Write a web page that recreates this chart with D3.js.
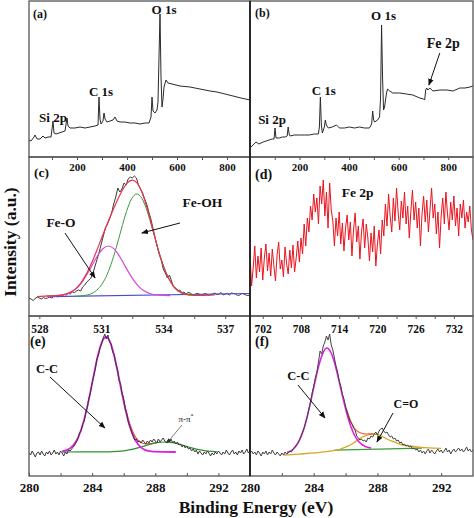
<!DOCTYPE html>
<html>
<head>
<meta charset="utf-8">
<script src="https://cdnjs.cloudflare.com/ajax/libs/d3/7.8.5/d3.min.js"></script>
<style>
  body { margin: 0; background: #fff; }
  svg text { font-family: "Liberation Serif", "Times New Roman", serif; font-weight: bold; }
</style>
</head>
<body>
<script>
// ---- data (intensity in arbitrary units) ----

// (a) survey spectrum, sample 1
var surveyA_eV = [8,16,28,32,40,52,64,72,84,96,104,108,116,128,140,152,160,164,172,192,212,232,252,272,284,288,292,296,304,308,312,320,332,344,352,360,372,392,412,432,452,472,488,496,500,504,512,520,524,528,532,536,540,544,548,556,564,580,612,652,692,732,760,792,824,856,892];
var surveyA_int = [17,16,20,22,18,18,21,19,20,20,36,24,23,24,25,26,39,31,29,29,30,29,30,31,32,60,38,33,36,44,38,35,36,37,40,36,35,35,34,34,33,34,34,40,60,46,44,47,55,100,143,80,50,58,70,77,74,73,71,70,68,66,65,63,61,59,57];

// (b) survey spectrum, sample 2
var surveyB_eV = [4,12,24,36,53,65,77,89,97,101,105,118,130,142,150,154,158,162,178,199,219,239,259,276,280,284,288,292,300,304,308,316,332,349,361,381,401,422,442,462,482,491,495,499,503,515,523,527,531,535,539,543,551,555,564,576,604,632,657,685,701,705,709,713,718,726,738,766,795,819,847,868,888,900];
var surveyB_int = [10,12,15,13,15,16,17,18,18,29,19,19,20,20,21,30,23,21,22,22,22,22,23,23,30,60,32,24,30,37,32,29,30,32,29,29,30,29,30,29,29,33,46,37,35,37,40,60,132,80,47,50,64,68,66,64,64,63,62,59,58,57,67,69,67,69,66,67,67,66,69,69,70,71];
var surveyTicks = [100,200,300,400,500,600,700,800];
var surveyLabels = [200,400,600,800];

// (c) O 1s region: raw data (0.1 eV steps from 527.5) and fitted components
var o1sStart = 527.5, o1sStep = 0.1;
var o1sRaw = [18,17,15.5,17.5,19,18,17,18.5,17.5,18,
  19,18,19.5,20,19,21,20,21.5,21,22.5,
  22,24,23.5,25,26,25,29,31,34,36,
  38,43,50,57,64,72,80,88,92,97,
  103,112,119,128,124,127,133,131,137,139,
  138,140,138,131,127,123,117,112,104,97,
  88,79,70,62,56,47,43,38,41,35,
  29,27,25,26,23,24,22,23.5,23,21.5,
  21,22.5,22.5,21,21,22.5,22,20.5,21.5,22,
  23,21.5,22,23.5,21,22,22.5,21,23,22.5,
  22,20.5,21,22.5,22,21,20.5,21];
var feO_eV = [528.34,528.84,529.34,529.59,529.84,530.09,530.34,530.59,530.84,531.09,531.34,531.59,531.84,532.09,532.34,532.59,532.84,533.09,533.34,533.84,534.34];
var feO_int = [19.9,20.3,22.0,24.4,28.4,34.6,42.7,52.0,61.0,67.5,70,67.6,61.2,52.3,43.1,35.1,28.9,24.9,22.5,20.8,20.3];
var feOH_eV = [529.72,530.22,530.72,530.97,531.22,531.47,531.72,531.97,532.22,532.47,532.72,532.97,533.22,533.47,533.72,533.97,534.22,534.47,534.72,535.22,535.72];
var feOH_int = [19.7,20.6,24.8,30.1,38.7,51.5,68.1,86.8,104.5,117.3,122,117.5,104.9,87.4,68.9,52.3,39.6,31.0,25.8,21.7,21.0];
var o1sEnv_eV = [527.9,528.5,529,529.5,529.75,530,530.25,530.5,530.75,531,531.25,531.5,531.75,532,532.25,532.5,532.75,533,533.25,533.5,533.75,534,534.25,534.5,534.75,535,535.5,536,536.5];
var o1sEnv_int = [19.5,20.1,20.7,23.6,27.1,32.7,40.9,51.4,63.8,77,90.2,102.7,114.5,125,132.8,135.9,132.6,122,105.7,86.2,66.8,50.4,37.9,29.7,24.8,22.1,20.5,20.6,21];
var o1sBase_eV = [528.5, 538.2];
var o1sBase_int = [19.3, 22.5];
var o1sTicks = [528,529.5,531,532.5,534,535.5,537];
var o1sLabels = [528,531,534,537];

// (d) Fe 2p region (0.25 eV steps from 700)
var fe2pStart = 700, fe2pStep = 0.25;
var fe2pRaw = [62,30,48,70,38,60,44,68,36,58,
  72,45,63,40,67,50,35,61,74,47,
  56,39,69,52,42,66,48,71,44,58,
  75,54,78,62,92,70,98,84,110,96,
  122,104,118,92,130,112,136,100,124,88,
  133,106,95,70,98,80,104,72,93,65,
  88,101,76,94,60,86,103,74,90,57,
  84,97,68,92,78,55,83,64,90,50,
  72,86,62,96,80,112,90,122,100,84,
  118,95,128,104,86,115,98,124,92,110,
  78,105,126,96,114,88,108,70,102,120,
  94,116,84,106,128,98,112,82,104,68,
  100,118,92,124,102,86,114,96,120,90,
  108,80,112,98,116,88,104,94,110,86,
  76];
var fe2pTicks = [702,705,708,711,714,717,720,723,726,729,732];
var fe2pLabels = [702,708,714,720,726,732];

// (e) C 1s region, sample 1 (0.1 eV steps from 280)
var c1sStart = 280, c1sStep = 0.1;
var c1sRawE = [23,21,25,22,19,23,24,21,25,22,
  20,24,22,25,21,23,26,22,24,21,
  25,23,20,24,22,26,25,27,29,31,
  34,37,43,45,52,55,64,69,78,84,
  93,100,107,117,121,128,132,138,142,137,
  141,134,132,124,121,112,107,96,92,82,
  77,67,62,53,49,44,40,36,37,34,
  35,33,36,34,32,35,33,36,34,37,
  35,33,37,34,36,38,35,33,36,34,
  37,33,35,32,34,31,32,29,31,28,
  30,27,28,25,27,24,26,22,25,23,
  21,24,22,25,23,20,23,21,24,22,
  25,23,21,24,22,26,23,21,24,26,
  22,24,21,25,23,26,22,24,27,23,
  25];
var ccE_eV = [282.1,282.38,282.63,282.88,283.13,283.38,283.63,283.88,284.13,284.38,284.63,284.88,285.13,285.38,285.63,285.88,286.13,286.38,286.63,286.88,287.13,287.38,287.63,287.88,289.3];
var ccE_int = [24.6,25.9,28.1,32.2,39.2,50,65,83.4,103.3,121.5,134.4,139,134.4,121.5,103.3,83.4,65,50,39.2,32.2,28.1,25.9,24.8,24.3,24];
var piE_eV = [282.1,285.1,285.6,286.1,286.6,287.1,287.6,288.1,288.6,289.1,289.6,290.1,290.6,291.1,291.6,291.9];
var piE_int = [24,24.2,24.6,25.4,26.9,29,31.3,33.3,34,33.3,31.3,29,26.9,25.4,24.6,24.3];
var envE_eV = [285.88,286.13,286.38,286.63,286.88,287.13,287.38,287.63,287.88,288.1];
var envE_int = [84.4,66.5,52.2,42.2,36.2,33.2,32.2,32.3,32.8,33.4];

// (f) C 1s region, sample 2
var c1sRawF = [23,25,22,24,21,25,23,20,24,22,
  25,21,24,22,26,23,21,24,22,20,
  23,21,24,22,23,25,24,27,29,31,
  33,36,40,44,48,54,60,67,74,83,
  90,98,104,114,125,122,130,134,140,136,
  142,131,126,118,110,104,95,90,82,77,
  70,64,59,54,52,48,46,40,38,36,
  37,35,36,34,38,37,40,39,42,44,
  41,45,47,48,45,43,44,41,39,40,
  37,38,35,36,33,34,31,32,30,31,
  29,30,27,28,26,27,24,26,23,25,
  22,25,27,23,26,24,22,25,27,24,
  26,23,25,28,24,26,22,25,27,24,
  26,28,25,27,24,26,29,25,27,24,
  26];
var ccF_eV = [282.32,282.57,282.82,283.07,283.32,283.57,283.82,284.07,284.32,284.57,284.82,285.07,285.32,285.57,285.82,286.07,286.32,286.57,286.82,287.07,287.32,287.6];
var ccF_int = [23.4,25.2,28.6,34.7,44.3,57.9,75,93.5,110.5,122.7,128,124,112.5,96.5,79,63,50,40.5,34.5,31,29,28];
var coF_eV = [282.09,282.6,283.2,283.8,284.4,285.0,285.6,286.07,286.5,286.9,287.3,287.74,288.0,288.3,288.6,289.0,289.3,289.6,290.0,290.5,291.2,292.0];
var coF_int = [21,21.3,22,22.8,23.7,24.8,26.5,29.3,33,37.5,40.5,42,41.5,39.5,37,34.3,32.5,31,30,29,28.2,27.7];
var baseF_eV = [285.3, 290.8];
var baseF_int = [25.8, 27.9];
var envF_eV = [286.07,286.32,286.57,286.82,287.07,287.32,287.57,287.74];
var envF_int = [66,55,47.5,44,42.5,42,42.2,42.1];
var c1sTicks = [280,282,284,286,288,290,292];
var c1sLabels = [280,284,288,292];

// ---- layout ----
var width = 474, height = 518;
var cols = [[29, 250], [250, 473]];
var rows = [[1, 157], [157, 316], [316, 476]];
var serif = '"Liberation Serif", "Times New Roman", serif';

var svg = d3.select("body").append("svg")
    .attr("width", width)
    .attr("height", height);

var defs = svg.append("defs");
defs.append("marker")
    .attr("id", "head")
    .attr("viewBox", "0 0 10 10")
    .attr("refX", 9).attr("refY", 5)
    .attr("markerUnits", "userSpaceOnUse")
    .attr("markerWidth", 7).attr("markerHeight", 7)
    .attr("orient", "auto")
  .append("path")
    .attr("d", "M0,1 L10,5 L0,9 Z")
    .attr("fill", "#111");
defs.append("marker")
    .attr("id", "headSmall")
    .attr("viewBox", "0 0 10 10")
    .attr("refX", 9).attr("refY", 5)
    .attr("markerUnits", "userSpaceOnUse")
    .attr("markerWidth", 5).attr("markerHeight", 5)
    .attr("orient", "auto")
  .append("path")
    .attr("d", "M0,1 L10,5 L0,9 Z")
    .attr("fill", "#333");

function makePanel(id, col, row, xDomain, yDomain) {
    var x = d3.scaleLinear().domain(xDomain).range(cols[col]);
    var y = d3.scaleLinear().domain(yDomain).range([rows[row][1], rows[row][0]]);
    defs.append("clipPath").attr("id", "clip-" + id)
      .append("rect")
        .attr("x", cols[col][0]).attr("y", rows[row][0])
        .attr("width", cols[col][1] - cols[col][0])
        .attr("height", rows[row][1] - rows[row][0]);
    var g = svg.append("g").attr("clip-path", "url(#clip-" + id + ")");
    return {x: x, y: y, g: g, col: col, row: row};
}

function pairs(xs, ys) { return d3.zip(xs, ys); }
function sampled(start, step, vals) {
    return vals.map(function(v, i) { return [start + i * step, v]; });
}

function drawLine(p, data, color, w, smooth) {
    var line = d3.line()
        .x(function(d) { return p.x(d[0]); })
        .y(function(d) { return p.y(d[1]); });
    if (smooth) line.curve(d3.curveMonotoneX);
    p.g.append("path")
        .datum(data)
        .attr("fill", "none")
        .attr("stroke", color)
        .attr("stroke-width", w)
        .attr("stroke-linejoin", "round")
        .attr("d", line);
}

function bottomAxis(p, ticks, labels, size, pad, fontSize) {
    var ax = d3.axisBottom(p.x)
        .tickValues(ticks)
        .tickSize(size)
        .tickSizeOuter(0)
        .tickPadding(pad)
        .tickFormat(function(d) {
            return labels.some(function(l) { return Math.abs(l - d) < 1e-6; }) ? d : "";
        });
    var g = svg.append("g")
        .attr("transform", "translate(0," + rows[p.row][1] + ")")
        .call(ax);
    g.select(".domain").remove();
    g.attr("font-size", fontSize).attr("font-family", serif);
    g.selectAll("line").attr("stroke", "#555").attr("stroke-width", 1);
    g.selectAll("text").attr("fill", "#111");
}

function note(p, txt, xv, yv, size) {
    return svg.append("text")
        .attr("x", p.x(xv)).attr("y", p.y(yv))
        .attr("text-anchor", "middle")
        .attr("font-size", size)
        .attr("fill", "#111")
        .text(txt);
}

function arrow(p, x1, y1, x2, y2, small) {
    svg.append("line")
        .attr("x1", p.x(x1)).attr("y1", p.y(y1))
        .attr("x2", p.x(x2)).attr("y2", p.y(y2))
        .attr("stroke", small ? "#444" : "#111")
        .attr("stroke-width", small ? 0.7 : 1)
        .attr("marker-end", small ? "url(#headSmall)" : "url(#head)");
}

var pA = makePanel("a", 0, 0, [8, 892], [0, 156]);
var pB = makePanel("b", 1, 0, [0, 900], [0, 156]);
var pC = makePanel("c", 0, 1, [527.5, 538.2], [0, 159]);
var pD = makePanel("d", 1, 1, [700, 735], [0, 159]);
var pE = makePanel("e", 0, 2, [280, 294], [0, 160]);
var pF = makePanel("f", 1, 2, [280, 294], [0, 160]);

// (a), (b) survey lines
drawLine(pA, pairs(surveyA_eV, surveyA_int), "#2a2a2a", 1, false);
drawLine(pB, pairs(surveyB_eV, surveyB_int), "#2a2a2a", 1, false);

// (c) O 1s fit
drawLine(pC, sampled(o1sStart, o1sStep, o1sRaw), "#3a3a3a", 1, false);
drawLine(pC, pairs(o1sBase_eV, o1sBase_int), "#4a4ad0", 1.2, false);
drawLine(pC, pairs(feOH_eV, feOH_int), "#3c9a3c", 1, true);
drawLine(pC, pairs(feO_eV, feO_int), "#d846d8", 1.2, true);
drawLine(pC, pairs(o1sEnv_eV, o1sEnv_int), "#e8344e", 1.2, true);

// (d) Fe 2p
drawLine(pD, sampled(fe2pStart, fe2pStep, fe2pRaw), "#e8141e", 1, false);

// (e) C 1s fit
drawLine(pE, pairs(envE_eV, envE_int), "#f0503c", 1.2, true);
drawLine(pE, pairs(piE_eV, piE_int), "#2f8f2f", 1.2, true);
drawLine(pE, pairs(ccE_eV, ccE_int), "#e020e0", 1.8, true);
drawLine(pE, sampled(c1sStart, c1sStep, c1sRawE), "#3a3a3a", 1, false);

// (f) C 1s fit
drawLine(pF, pairs(baseF_eV, baseF_int), "#3a9a3a", 1.2, false);
drawLine(pF, pairs(coF_eV, coF_int), "#d9a520", 1.3, true);
drawLine(pF, pairs(envF_eV, envF_int), "#f06030", 1.2, true);
drawLine(pF, pairs(ccF_eV, ccF_int), "#e020e0", 1.6, true);
drawLine(pF, sampled(c1sStart, c1sStep, c1sRawF), "#444", 1, false);

// axes (ticks below the top/middle rows, inward on the bottom row)
bottomAxis(pA, surveyTicks, surveyLabels, 3, 3, 11);
bottomAxis(pB, surveyTicks, surveyLabels, 3, 3, 11);
bottomAxis(pC, o1sTicks, o1sLabels, 3, 6, 11.5);
bottomAxis(pD, fe2pTicks, fe2pLabels, 3, 6, 11.5);
bottomAxis(pE, c1sTicks, c1sLabels, -3, 7, 13);
bottomAxis(pF, c1sTicks, c1sLabels, -3, 7, 13);

// panel frames
[pA, pB, pC, pD, pE, pF].forEach(function(p) {
    svg.append("rect")
        .attr("x", cols[p.col][0]).attr("y", rows[p.row][0])
        .attr("width", cols[p.col][1] - cols[p.col][0])
        .attr("height", rows[p.row][1] - rows[p.row][0])
        .attr("fill", "none")
        .attr("stroke", "#555")
        .attr("stroke-width", 1.3);
});
svg.append("line")
    .attr("x1", cols[1][0]).attr("x2", cols[1][0])
    .attr("y1", rows[0][0]).attr("y2", rows[2][1])
    .attr("stroke", "#151515").attr("stroke-width", 1.5);

// panel letters
[[pA, "(a)", 12, 4, 18], [pB, "(b)", 12, 5, 17], [pC, "(c)", 13.5, 5, 177],
 [pD, "(d)", 14, 5, 179], [pE, "(e)", 14, 1, 346], [pF, "(f)", 14, 5, 346]].forEach(function(d) {
    svg.append("text")
        .attr("x", cols[d[0].col][0] + d[3]).attr("y", d[4])
        .attr("font-size", d[2])
        .attr("fill", "#111")
        .text(d[1]);
});

// annotations
note(pA, "O 1s", 548, 143, 13);
note(pA, "C 1s", 296, 61, 13);
note(pA, "Si 2p", 104, 35, 13);

note(pB, "O 1s", 539, 137, 13);
note(pB, "C 1s", 298, 62, 13);
note(pB, "Si 2p", 89, 33, 13);
note(pB, "Fe 2p", 780, 109, 14);
arrow(pB, 766, 104, 722, 72);

note(pC, "Fe-O", 529.05, 89, 13.5);
arrow(pC, 529.24, 83, 530.7, 38);
note(pC, "Fe-OH", 535.9, 109, 13.5);
arrow(pC, 534.81, 93, 532.96, 83);

note(pD, "Fe 2p", 716.9, 119, 13.5);

note(pE, "C-C", 281.14, 103, 12.5);
arrow(pE, 281.33, 99, 284.81, 48);
var pi = note(pE, "π-π", 289.95, 54, 9).style("font-weight", "normal");
pi.append("tspan").attr("dy", -4).attr("font-size", 6).text("*");
arrow(pE, 289.69, 51, 288.74, 33, true);

note(pF, "C-C", 283.04, 96, 12.5);
arrow(pF, 283.01, 91, 284.71, 58);
note(pF, "C=O", 289.79, 68, 12);
arrow(pF, 288.98, 63, 287.97, 34);

// axis titles
svg.append("text")
    .attr("transform", "translate(16,242) rotate(-90)")
    .attr("text-anchor", "middle")
    .attr("font-size", 17.5)
    .attr("fill", "#111")
    .text("Intensity (a.u.)");
svg.append("text")
    .attr("x", 256).attr("y", 513)
    .attr("text-anchor", "middle")
    .attr("font-size", 17.5)
    .attr("fill", "#111")
    .text("Binding Energy (eV)");
</script>
</body>
</html>
